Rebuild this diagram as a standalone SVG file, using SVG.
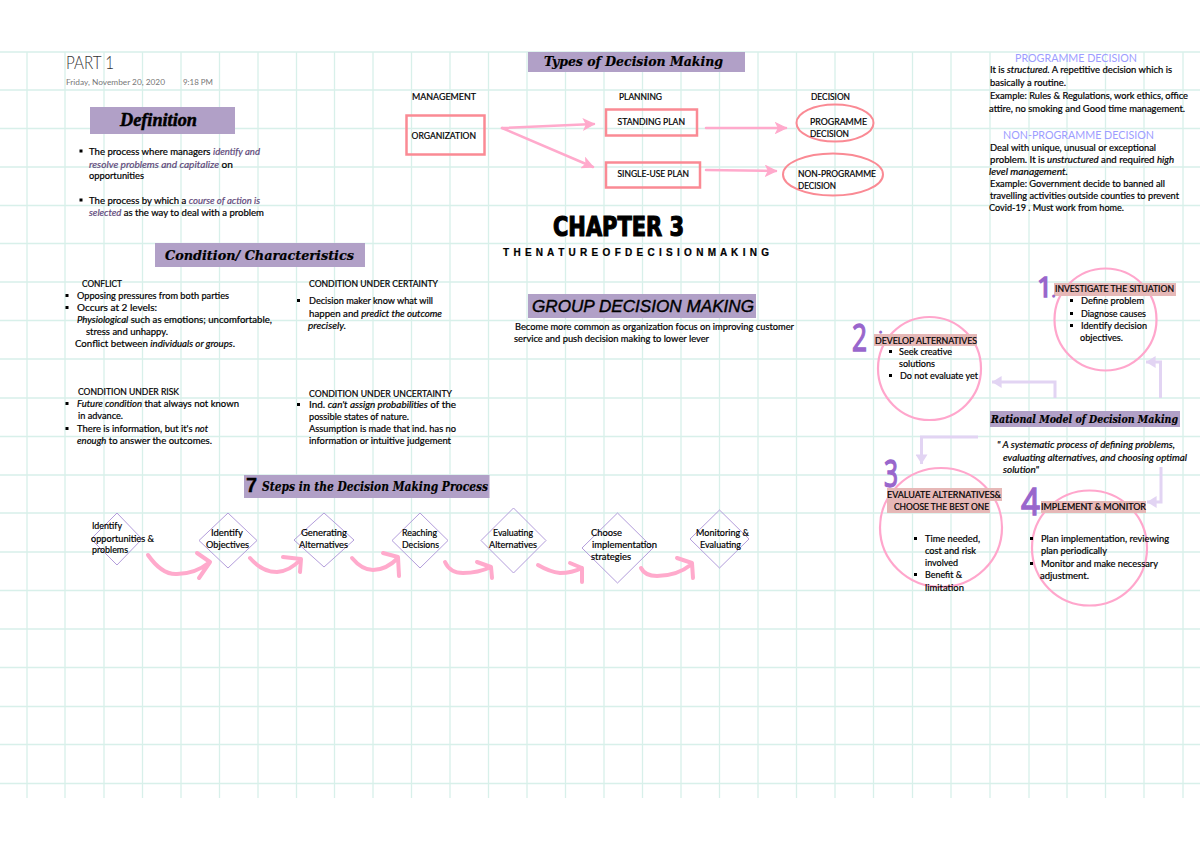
<svg xmlns="http://www.w3.org/2000/svg" width="1200" height="849" viewBox="0 0 1200 849">
<style>
text{font-family:"Lato","Noto Sans",sans-serif;font-size:9.5px;fill:#000;stroke:#000;stroke-width:.2px;white-space:pre}
.c{font-size:8.6px}
.i{font-style:italic}
.pi{font-style:italic;fill:#60497a;stroke:#60497a}
.h{font-family:"DejaVu Serif",serif;font-style:italic;font-weight:700;font-size:12px;stroke-width:.2px}
.blue{font-size:11px;fill:#9d9dff;stroke:none}
.num{font-family:"Noto Sans",sans-serif;font-weight:400;fill:#9966cc;stroke:#9966cc;stroke-width:1.4px}
.band{fill:#b1a0c7}
.tag{fill:#e6b8b7}
.box{fill:none;stroke:#fa8a94;stroke-width:2.5}
.oval{fill:none;stroke:#fa8a94;stroke-width:2}
.ring{fill:none;stroke:#ffa6cc;stroke-width:2.2}
.dia{fill:none;stroke:#b39ddb;stroke-width:1}
.pk{fill:none;stroke:#ffaacc;stroke-width:2.5;stroke-linecap:round;stroke-linejoin:round}
.cv{fill:none;stroke:#ffaacc;stroke-width:4;stroke-linecap:round;stroke-linejoin:round}
.li{fill:none;stroke:#e2d4f3;stroke-width:3}
.grid{fill:none;stroke:#d8f0ea;stroke-width:1.3}
</style>
<defs>
<rect id="b" width="3" height="3" fill="#000"/>
<marker id="pkh" viewBox="0 0 10 10" refX="9" refY="5" markerWidth="5" markerHeight="5" orient="auto"><path d="M1 1L9 5L1 9L3 5Z" fill="#ffaacc" stroke="#ffaacc"/></marker>
<marker id="lih" viewBox="0 0 10 10" refX="9" refY="5" markerWidth="4" markerHeight="4" orient="auto"><path d="M1 0L9 5L1 10Z" fill="#e2d4f3"/></marker>
</defs>
<rect width="1200" height="849" fill="#fff"/>
<path class="grid" d="M27 52V798M65 52V798M104 52V798M142.500 52V798M181 52V798M219.500 52V798M258 52V798M296.500 52V798M334.500 52V798M373 52V798M411.500 52V798M450 52V798M488.500 52V798M527 52V798M565.500 52V798M604 52V798M642.500 52V798M681 52V798M719.500 52V798M758 52V798M796.500 52V798M835 52V798M873.500 52V798M912.500 52V798M951 52V798M990 52V798M1029 52V798M1067 52V798M1105.500 52V798M1144 52V798M1183 52V798M0 52H1200M0 90H1200M0 128.500H1200M0 167H1200M0 205.500H1200M0 243.500H1200M0 282H1200M0 320.500H1200M0 359H1200M0 398H1200M0 436.500H1200M0 475H1200M0 513H1200M0 552H1200M0 590.500H1200M0 629H1200M0 667.500H1200M0 706.500H1200M0 744.500H1200M0 783.500H1200"/>
<g id="connectors">
<path class="pk" d="M502 128L594 124" marker-end="url(#pkh)"/>
<path class="pk" d="M502 128L593 167" marker-end="url(#pkh)"/>
<path class="pk" d="M706 128L786 128" marker-end="url(#pkh)"/>
<path class="pk" d="M706 170L776 171" marker-end="url(#pkh)"/>
<path class="li" d="M1160.500 398V362H1146" marker-end="url(#lih)"/>
<path class="li" d="M1055 398V382H992" marker-end="url(#lih)"/>
<path class="li" d="M978 437H921.500V464" marker-end="url(#lih)"/>
<path class="li" d="M1161 467V502H1147" marker-end="url(#lih)"/>
<path class="cv" d="M148 555Q162 575 177 574Q195 574 210 562M197 553L210 562L199 578"/>
<path class="cv" d="M250 558Q262 572 277 572Q290 571 300 560M283 557L301 559L300 572"/>
<path class="cv" d="M352 558Q362 570 373 570Q386 570 398 558M383 553L398 557L399 576"/>
<path class="cv" d="M445 562Q450 573 463 573Q478 573 491 567M477 562L491 567L492 578"/>
<path class="cv" d="M538 565Q550 572 560 573Q572 573 582 568M570 563L582 568L582 582"/>
<path class="cv" d="M641 568Q645 576 657 576Q677 576 692 564M677 558L692 563L693 578"/>
</g>
<g id="title">
<text x="66" y="69" style="font-size:17px;font-weight:300;fill:#333;stroke:none" textLength="48" lengthAdjust="spacingAndGlyphs">PART 1</text>
<text x="66" y="85" style="font-size:8px;fill:#777;stroke:none" textLength="99" lengthAdjust="spacingAndGlyphs">Friday, November 20, 2020</text>
<text x="183" y="85" style="font-size:8px;fill:#777;stroke:none" textLength="30" lengthAdjust="spacingAndGlyphs">9:18 PM</text>
</g>
<g id="definition">
<rect class="band" x="90" y="107" width="145" height="27"/>
<text class="h" x="120" y="126" style="font-family:'Liberation Serif',serif;font-size:18px;stroke-width:.5px" textLength="77" lengthAdjust="spacingAndGlyphs">Definition</text>
<use href="#b" x="79.500" y="149.500"/>
<text x="89" y="155" textLength="171" lengthAdjust="spacingAndGlyphs">The process where managers <tspan class="pi">identify and</tspan></text>
<text x="89" y="167.500" textLength="144" lengthAdjust="spacingAndGlyphs"><tspan class="pi">resolve problems and capitalize</tspan> on</text>
<text x="89" y="179" textLength="55" lengthAdjust="spacingAndGlyphs">opportunities</text>
<use href="#b" x="79.500" y="198.500"/>
<text x="89" y="204" textLength="171" lengthAdjust="spacingAndGlyphs">The process by which a <tspan class="pi">course of action is</tspan></text>
<text x="89" y="215.500" textLength="175" lengthAdjust="spacingAndGlyphs"><tspan class="pi">selected</tspan> as the way to deal with a problem</text>
</g>
<g id="condition-heading">
<rect class="band" x="155" y="243" width="210" height="24"/>
<text class="h" x="165" y="260" style="font-size:13px" textLength="189" lengthAdjust="spacingAndGlyphs">Condition/ Characteristics</text>
</g>
<g id="conflict">
<text class="c" x="82" y="286.500" textLength="40" lengthAdjust="spacingAndGlyphs">CONFLICT</text>
<use href="#b" x="65.500" y="294"/>
<text x="77" y="299" textLength="152" lengthAdjust="spacingAndGlyphs">Opposing pressures from both parties</text>
<use href="#b" x="65.500" y="306"/>
<text x="77" y="311" textLength="80" lengthAdjust="spacingAndGlyphs">Occurs at 2 levels:</text>
<text x="77" y="323" textLength="195" lengthAdjust="spacingAndGlyphs"><tspan class="i">Physiological</tspan> such as emotions; uncomfortable,</text>
<text x="86" y="335" textLength="82" lengthAdjust="spacingAndGlyphs">stress and unhappy.</text>
<text x="75" y="347" textLength="160" lengthAdjust="spacingAndGlyphs">Conflict between <tspan class="i">individuals or groups</tspan>.</text>
</g>
<g id="risk">
<text class="c" x="78" y="394.500" textLength="101" lengthAdjust="spacingAndGlyphs">CONDITION UNDER RISK</text>
<use href="#b" x="65.500" y="402"/>
<text x="77" y="407" textLength="162" lengthAdjust="spacingAndGlyphs"><tspan class="i">Future condition</tspan> that always not known</text>
<text x="78" y="419" textLength="45" lengthAdjust="spacingAndGlyphs">in advance.</text>
<use href="#b" x="65.500" y="427"/>
<text x="77" y="432" textLength="131" lengthAdjust="spacingAndGlyphs">There is information, but it's <tspan class="i">not</tspan></text>
<text x="77" y="444" textLength="135" lengthAdjust="spacingAndGlyphs"><tspan class="i">enough</tspan> to answer the outcomes.</text>
</g>
<g id="certainty">
<text class="c" x="309" y="286.500" textLength="129" lengthAdjust="spacingAndGlyphs">CONDITION UNDER CERTAINTY</text>
<use href="#b" x="297" y="299"/>
<text x="309" y="304" textLength="124" lengthAdjust="spacingAndGlyphs">Decision maker know what will</text>
<text x="309" y="317" textLength="133" lengthAdjust="spacingAndGlyphs">happen and <tspan class="i">predict the outcome</tspan></text>
<text class="i" x="308" y="329" textLength="38" lengthAdjust="spacingAndGlyphs">precisely.</text>
</g>
<g id="uncertainty">
<text class="c" x="309" y="396.500" textLength="143" lengthAdjust="spacingAndGlyphs">CONDITION UNDER UNCERTAINTY</text>
<use href="#b" x="297" y="403"/>
<text x="309" y="408" textLength="147" lengthAdjust="spacingAndGlyphs">Ind. <tspan class="i">can't assign probabilities</tspan> of the</text>
<text x="309" y="420" textLength="100" lengthAdjust="spacingAndGlyphs">possible states of nature.</text>
<text x="309" y="432" textLength="147" lengthAdjust="spacingAndGlyphs">Assumption is made that ind. has no</text>
<text x="309" y="444" textLength="142" lengthAdjust="spacingAndGlyphs">information or intuitive judgement</text>
</g>
<g id="types-heading">
<rect class="band" x="528" y="52" width="217" height="20"/>
<text class="h" x="544" y="66" style="font-size:13px" textLength="179" lengthAdjust="spacingAndGlyphs">Types of Decision Making</text>
</g>
<g id="col-labels">
<text class="c" x="412" y="100" textLength="64" lengthAdjust="spacingAndGlyphs">MANAGEMENT</text>
<text class="c" x="619" y="100" textLength="43" lengthAdjust="spacingAndGlyphs">PLANNING</text>
<text class="c" x="811" y="100" textLength="39" lengthAdjust="spacingAndGlyphs">DECISION</text>
</g>
<g id="organization">
<rect class="box" x="406.500" y="115.500" width="78" height="39"/>
<text class="c" x="411.500" y="138.500" textLength="64.500" lengthAdjust="spacingAndGlyphs">ORGANIZATION</text>
</g>
<g id="standing-plan">
<rect class="box" x="606" y="109.500" width="91" height="26"/>
<text class="c" x="617.500" y="124.500" textLength="67.500" lengthAdjust="spacingAndGlyphs">STANDING PLAN</text>
</g>
<g id="single-use-plan">
<rect class="box" x="606" y="162.500" width="94" height="25"/>
<text class="c" x="617.500" y="177" textLength="71.500" lengthAdjust="spacingAndGlyphs">SINGLE-USE PLAN</text>
</g>
<g id="programme-decision">
<ellipse class="oval" cx="835" cy="123" rx="38.500" ry="18.500"/>
<text class="c" x="810" y="124.500" textLength="57" lengthAdjust="spacingAndGlyphs">PROGRAMME</text>
<text class="c" x="810" y="137" textLength="39" lengthAdjust="spacingAndGlyphs">DECISION</text>
</g>
<g id="non-programme-decision">
<ellipse class="oval" cx="833" cy="174.500" rx="50" ry="21"/>
<text class="c" x="798" y="177" textLength="78" lengthAdjust="spacingAndGlyphs">NON-PROGRAMME</text>
<text class="c" x="798" y="189" textLength="38" lengthAdjust="spacingAndGlyphs">DECISION</text>
</g>
<g id="chapter">
<text x="553" y="236" style="font-family:'DejaVu Sans',sans-serif;font-weight:700;font-size:26px;stroke-width:1.2px" textLength="131" lengthAdjust="spacingAndGlyphs">CHAPTER 3</text>
<text x="503" y="255.500" style="font-family:'Liberation Sans',sans-serif;font-weight:700;font-size:10px;stroke-width:.2px" textLength="266" lengthAdjust="spacing">T H E N A T U R E O F D E C I S I O N M A K I N G</text>
</g>
<g id="group-decision">
<rect class="band" x="528" y="294" width="228" height="24"/>
<text x="532" y="312" style="font-family:'Liberation Sans',sans-serif;font-style:italic;font-size:17px;stroke-width:.4px" textLength="222" lengthAdjust="spacingAndGlyphs">GROUP DECISION MAKING</text>
<text x="515" y="330" textLength="279" lengthAdjust="spacingAndGlyphs">Become more common as organization focus on improving customer</text>
<text x="514" y="342" textLength="195" lengthAdjust="spacingAndGlyphs">service and push decision making to lower lever</text>
</g>
<g id="programme-notes">
<text class="blue" x="1015" y="62" textLength="122" lengthAdjust="spacingAndGlyphs">PROGRAMME DECISION</text>
<text x="990" y="73" textLength="182" lengthAdjust="spacingAndGlyphs">It is <tspan class="i">structured.</tspan> A repetitive decision which is</text>
<text x="990" y="86" textLength="76" lengthAdjust="spacingAndGlyphs">basically a routine.</text>
<text x="990" y="99" textLength="198" lengthAdjust="spacingAndGlyphs">Example: Rules &amp; Regulations, work ethics, office</text>
<text x="989" y="112" textLength="196" lengthAdjust="spacingAndGlyphs">attire, no smoking and Good time management.</text>
</g>
<g id="non-programme-notes">
<text class="blue" x="1003" y="139" textLength="151" lengthAdjust="spacingAndGlyphs">NON-PROGRAMME DECISION</text>
<text x="990" y="151" textLength="166" lengthAdjust="spacingAndGlyphs">Deal with unique, unusual or exceptional</text>
<text x="990" y="163" textLength="184" lengthAdjust="spacingAndGlyphs">problem. It is <tspan class="i">unstructured</tspan> and required <tspan class="i">high</tspan></text>
<text class="i" x="989" y="175" textLength="79" lengthAdjust="spacingAndGlyphs">level management.</text>
<text x="990" y="187" textLength="175" lengthAdjust="spacingAndGlyphs">Example: Government decide to banned all</text>
<text x="990" y="199" textLength="189" lengthAdjust="spacingAndGlyphs">travelling activities outside counties to prevent</text>
<text x="989" y="211" textLength="135" lengthAdjust="spacingAndGlyphs">Covid-19 . Must work from home.</text>
</g>
<g id="steps-heading">
<rect class="band" x="244" y="475" width="245.500" height="23"/>
<text x="246" y="492" style="font-family:'Liberation Sans',sans-serif;font-weight:700;font-size:20px;stroke-width:.3px">7</text>
<text class="h" x="262" y="491" style="font-size:12.500px" textLength="226" lengthAdjust="spacingAndGlyphs">Steps in the Decision Making Process</text>
</g>
<g id="step-1">
<path class="dia" d="M117 513L142 539L117 565L91 539Z"/>
<text x="92" y="529" textLength="30" lengthAdjust="spacingAndGlyphs">Identify</text>
<text x="91" y="542" textLength="63" lengthAdjust="spacingAndGlyphs">opportunities &amp;</text>
<text x="92" y="553" textLength="36" lengthAdjust="spacingAndGlyphs">problems</text>
</g>
<g id="step-2">
<path class="dia" d="M228 513L257 540.500L228 568L199 540.500Z"/>
<text x="211" y="536" textLength="32" lengthAdjust="spacingAndGlyphs">Identify</text>
<text x="206" y="548" textLength="43" lengthAdjust="spacingAndGlyphs">Objectives</text>
</g>
<g id="step-3">
<path class="dia" d="M324 513L354 540L324 567L294 540Z"/>
<text x="301" y="536" textLength="46" lengthAdjust="spacingAndGlyphs">Generating</text>
<text x="299" y="548" textLength="49" lengthAdjust="spacingAndGlyphs">Alternatives</text>
</g>
<g id="step-4">
<path class="dia" d="M420 513L448 540.500L420 568L392 540.500Z"/>
<text x="402" y="536" textLength="35" lengthAdjust="spacingAndGlyphs">Reaching</text>
<text x="402" y="548" textLength="37" lengthAdjust="spacingAndGlyphs">Decisions</text>
</g>
<g id="step-5">
<path class="dia" d="M513.500 508L546 540.500L513.500 573L481 540.500Z"/>
<text x="493" y="536" textLength="40" lengthAdjust="spacingAndGlyphs">Evaluating</text>
<text x="489" y="548" textLength="48" lengthAdjust="spacingAndGlyphs">Alternatives</text>
</g>
<g id="step-6">
<path class="dia" d="M617.500 513L653 548L617.500 583L582 548Z"/>
<text x="591" y="536" textLength="31" lengthAdjust="spacingAndGlyphs">Choose</text>
<text x="592" y="548" textLength="65" lengthAdjust="spacingAndGlyphs">implementation</text>
<text x="591" y="560" textLength="40" lengthAdjust="spacingAndGlyphs">strategies</text>
</g>
<g id="step-7">
<path class="dia" d="M719.500 510L749 539L719.500 568L690 539Z"/>
<text x="696" y="536" textLength="53" lengthAdjust="spacingAndGlyphs">Monitoring &amp;</text>
<text x="700" y="548" textLength="41" lengthAdjust="spacingAndGlyphs">Evaluating</text>
</g>
<g id="rational-model">
<rect class="band" x="990" y="411" width="190" height="16"/>
<text class="h" x="991" y="423" style="font-size:11.500px" textLength="187" lengthAdjust="spacingAndGlyphs">Rational Model of Decision Making</text>
<text class="i" x="997" y="448" textLength="178" lengthAdjust="spacingAndGlyphs">" A systematic process of defining problems,</text>
<text class="i" x="1003" y="461" textLength="184" lengthAdjust="spacingAndGlyphs">evaluating alternatives, and choosing optimal</text>
<text class="i" x="1003" y="473" textLength="36" lengthAdjust="spacingAndGlyphs">solution"</text>
</g>
<g id="investigate">
<circle class="ring" cx="1105.500" cy="319.500" r="51"/>
<rect class="tag" x="1054" y="283" width="122" height="13"/>
<text class="num" x="1037" y="297" style="font-size:27px">1</text>
<text class="num" x="1052" y="297" style="font-size:12px">.</text>
<text class="c" x="1055" y="292" textLength="119" lengthAdjust="spacingAndGlyphs">INVESTIGATE THE SITUATION</text>
<use href="#b" x="1070" y="299"/>
<text x="1081" y="304" textLength="63" lengthAdjust="spacingAndGlyphs">Define problem</text>
<use href="#b" x="1070" y="312"/>
<text x="1081" y="317" textLength="65" lengthAdjust="spacingAndGlyphs">Diagnose causes</text>
<use href="#b" x="1070" y="324"/>
<text x="1081" y="329" textLength="66" lengthAdjust="spacingAndGlyphs">Identify decision</text>
<text x="1080" y="341" textLength="43" lengthAdjust="spacingAndGlyphs">objectives.</text>
</g>
<g id="develop">
<circle class="ring" cx="929.500" cy="368.500" r="51.500"/>
<rect class="tag" x="874" y="334" width="103" height="12"/>
<text class="num" x="852" y="351" style="font-size:39px" textLength="15" lengthAdjust="spacingAndGlyphs">2</text>
<text class="num" x="879" y="333" style="font-size:12px">.</text>
<text class="c" x="875" y="344" textLength="102" lengthAdjust="spacingAndGlyphs">DEVELOP ALTERNATIVES</text>
<use href="#b" x="889" y="350"/>
<text x="899" y="355" textLength="53" lengthAdjust="spacingAndGlyphs">Seek creative</text>
<text x="899" y="367" textLength="36" lengthAdjust="spacingAndGlyphs">solutions</text>
<use href="#b" x="889" y="374"/>
<text x="900" y="379" textLength="78" lengthAdjust="spacingAndGlyphs">Do not evaluate yet</text>
</g>
<g id="evaluate">
<ellipse class="ring" cx="941" cy="527.500" rx="61" ry="59.500"/>
<text class="num" x="884" y="487" style="font-size:39px" textLength="14" lengthAdjust="spacingAndGlyphs">3</text>
<path class="tag" d="M887 488H1002V501H990V513H887Z"/>
<text class="c" x="887" y="498" textLength="114" lengthAdjust="spacingAndGlyphs">EVALUATE ALTERNATIVES&amp;</text>
<text class="c" x="894" y="510" textLength="95" lengthAdjust="spacingAndGlyphs">CHOOSE THE BEST ONE</text>
<use href="#b" x="914" y="537"/>
<text x="925" y="542" textLength="55" lengthAdjust="spacingAndGlyphs">Time needed,</text>
<text x="925" y="554" textLength="51" lengthAdjust="spacingAndGlyphs">cost and risk</text>
<text x="925" y="566" textLength="33" lengthAdjust="spacingAndGlyphs">involved</text>
<use href="#b" x="914" y="573"/>
<text x="925" y="578" textLength="37" lengthAdjust="spacingAndGlyphs">Benefit &amp;</text>
<text x="925" y="591" textLength="39" lengthAdjust="spacingAndGlyphs">limitation</text>
</g>
<g id="implement">
<circle class="ring" cx="1089.500" cy="548" r="57.500"/>
<rect class="tag" x="1041" y="501" width="105" height="12"/>
<text class="num" x="1021" y="515" style="font-size:39px" textLength="19" lengthAdjust="spacingAndGlyphs">4</text>
<text class="c" x="1041" y="510" textLength="105" lengthAdjust="spacingAndGlyphs">IMPLEMENT &amp; MONITOR</text>
<use href="#b" x="1030" y="537"/>
<text x="1041" y="542" textLength="128" lengthAdjust="spacingAndGlyphs">Plan implementation, reviewing</text>
<text x="1041" y="554" textLength="66" lengthAdjust="spacingAndGlyphs">plan periodically</text>
<use href="#b" x="1030" y="562"/>
<text x="1041" y="567" textLength="117" lengthAdjust="spacingAndGlyphs">Monitor and make necessary</text>
<text x="1040" y="579" textLength="49" lengthAdjust="spacingAndGlyphs">adjustment.</text>
</g>
</svg>
